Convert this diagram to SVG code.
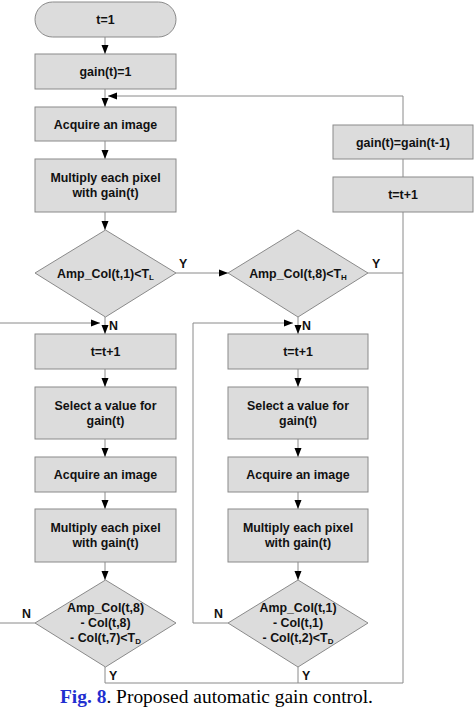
<svg xmlns="http://www.w3.org/2000/svg" width="474" height="708" viewBox="0 0 474 708">
<defs>
<marker id="ah" markerWidth="9" markerHeight="8" refX="9" refY="4" orient="auto" markerUnits="userSpaceOnUse">
<path d="M0,0.5 L9,4 L0,7.5 z" fill="#000"/>
</marker>
<style>
.box{fill:#dcdcdc;stroke:#8a8a8a;stroke-width:1}
.t{font-family:"Liberation Sans",Arial,sans-serif;font-weight:bold;font-size:12.4px;fill:#111;text-anchor:middle}
.lbl{font-family:"Liberation Sans",Arial,sans-serif;font-weight:bold;font-size:12.4px;fill:#111}
.c{fill:none;stroke:#8a8a8a;stroke-width:1}
.a{fill:none;stroke:#8a8a8a;stroke-width:1;marker-end:url(#ah)}
</style>
</defs>
<rect width="474" height="708" fill="#fff"/>
<g id="connectors">
<path class="a" d="M105,37 V54"/>
<path class="a" d="M105,89 V107"/>
<path class="a" d="M105,141 V159"/>
<path class="a" d="M105,212 V230"/>
<path class="a" d="M176,273 H228"/>
<path class="a" d="M105,317 V334"/>
<path class="a" d="M105,369 V387"/>
<path class="a" d="M105,439 V457"/>
<path class="a" d="M105,492 V509"/>
<path class="a" d="M105,562 V580"/>
<path class="a" d="M298,317 V334"/>
<path class="a" d="M298,369 V387"/>
<path class="a" d="M298,439 V457"/>
<path class="a" d="M298,492 V509"/>
<path class="a" d="M298,562 V580"/>
<path class="c" d="M368,273 H403 V96"/>
<path class="a" d="M403,96 H108"/>
<path class="c" d="M105,667 V683 H403 V273"/>
<path class="c" d="M298,667 V683"/>
<path class="c" d="M35,623 H0"/>
<path class="a" d="M0,323 H100"/>
<path class="a" d="M228,623 H193 V323 H293"/>
</g>
<g id="start"><rect class="box" x="35" y="2" width="141" height="35" rx="17.5"/><text class="t" x="105.5" y="24">t=1</text></g>
<g id="gain1"><rect class="box" x="35" y="54" width="141" height="35"/><text class="t" x="105.5" y="76">gain(t)=1</text></g>
<g id="acquire1"><rect class="box" x="35" y="107" width="141" height="34"/><text class="t" x="105.5" y="128.5">Acquire an image</text></g>
<g id="multiply1"><rect class="box" x="35" y="159" width="141" height="53"/><text class="t" x="105.5" y="182">Multiply each pixel</text><text class="t" x="105.5" y="197">with gain(t)</text></g>
<g id="dec1"><polygon class="box" points="105.5,230 176,273 105.5,317 35,273"/><text class="t" x="105.5" y="277.5">Amp_Col(t,1)&lt;T<tspan font-size="8" dy="2">L</tspan></text></g>
<g id="dec2"><polygon class="box" points="298,230 368,273 298,317 228,273"/><text class="t" x="298" y="277.5">Amp_Col(t,8)&lt;T<tspan font-size="8" dy="2">H</tspan></text></g>
<g id="gainprev"><rect class="box" x="333" y="125" width="140" height="34"/><text class="t" x="403" y="146.5">gain(t)=gain(t-1)</text></g>
<g id="tinc0"><rect class="box" x="333" y="177" width="140" height="35"/><text class="t" x="403" y="199">t=t+1</text></g>
<g id="tinc1"><rect class="box" x="35" y="334" width="141" height="35"/><text class="t" x="105.5" y="356">t=t+1</text></g>
<g id="select1"><rect class="box" x="35" y="387" width="141" height="52"/><text class="t" x="105.5" y="409.5">Select a value for</text><text class="t" x="105.5" y="424.5">gain(t)</text></g>
<g id="acquire2"><rect class="box" x="35" y="457" width="141" height="35"/><text class="t" x="105.5" y="479">Acquire an image</text></g>
<g id="multiply2"><rect class="box" x="35" y="509" width="141" height="53"/><text class="t" x="105.5" y="532">Multiply each pixel</text><text class="t" x="105.5" y="547">with gain(t)</text></g>
<g id="dec3"><polygon class="box" points="105.5,580 176,623 105.5,667 35,623"/><text class="t" x="105.5" y="612">Amp_Col(t,8)</text><text class="t" x="105.5" y="627">- Col(t,8)</text><text class="t" x="105.5" y="642">- Col(t,7)&lt;T<tspan font-size="8" dy="2">D</tspan></text></g>
<g id="tinc2"><rect class="box" x="228" y="334" width="140" height="35"/><text class="t" x="298" y="356">t=t+1</text></g>
<g id="select2"><rect class="box" x="228" y="387" width="140" height="52"/><text class="t" x="298" y="409.5">Select a value for</text><text class="t" x="298" y="424.5">gain(t)</text></g>
<g id="acquire3"><rect class="box" x="228" y="457" width="140" height="35"/><text class="t" x="298" y="479">Acquire an image</text></g>
<g id="multiply3"><rect class="box" x="228" y="509" width="140" height="53"/><text class="t" x="298" y="532">Multiply each pixel</text><text class="t" x="298" y="547">with gain(t)</text></g>
<g id="dec4"><polygon class="box" points="298,580 368,623 298,667 228,623"/><text class="t" x="298" y="612">Amp_Col(t,1)</text><text class="t" x="298" y="627">- Col(t,1)</text><text class="t" x="298" y="642">- Col(t,2)&lt;T<tspan font-size="8" dy="2">D</tspan></text></g>
<g id="labels">
<text class="lbl" x="179" y="268">Y</text>
<text class="lbl" x="372" y="268">Y</text>
<text class="lbl" x="109" y="330">N</text>
<text class="lbl" x="302" y="330">N</text>
<text class="lbl" x="22" y="618">N</text>
<text class="lbl" x="214" y="618">N</text>
<text class="lbl" x="109" y="680">Y</text>
<text class="lbl" x="302" y="680">Y</text>
</g>
<text x="60" y="703" font-family="Liberation Serif,'Times New Roman',serif" font-size="19" fill="#000" textLength="313" lengthAdjust="spacingAndGlyphs"><tspan fill="#1f2fd0" font-weight="bold">Fig. 8</tspan>. Proposed automatic gain control.</text>
</svg>
